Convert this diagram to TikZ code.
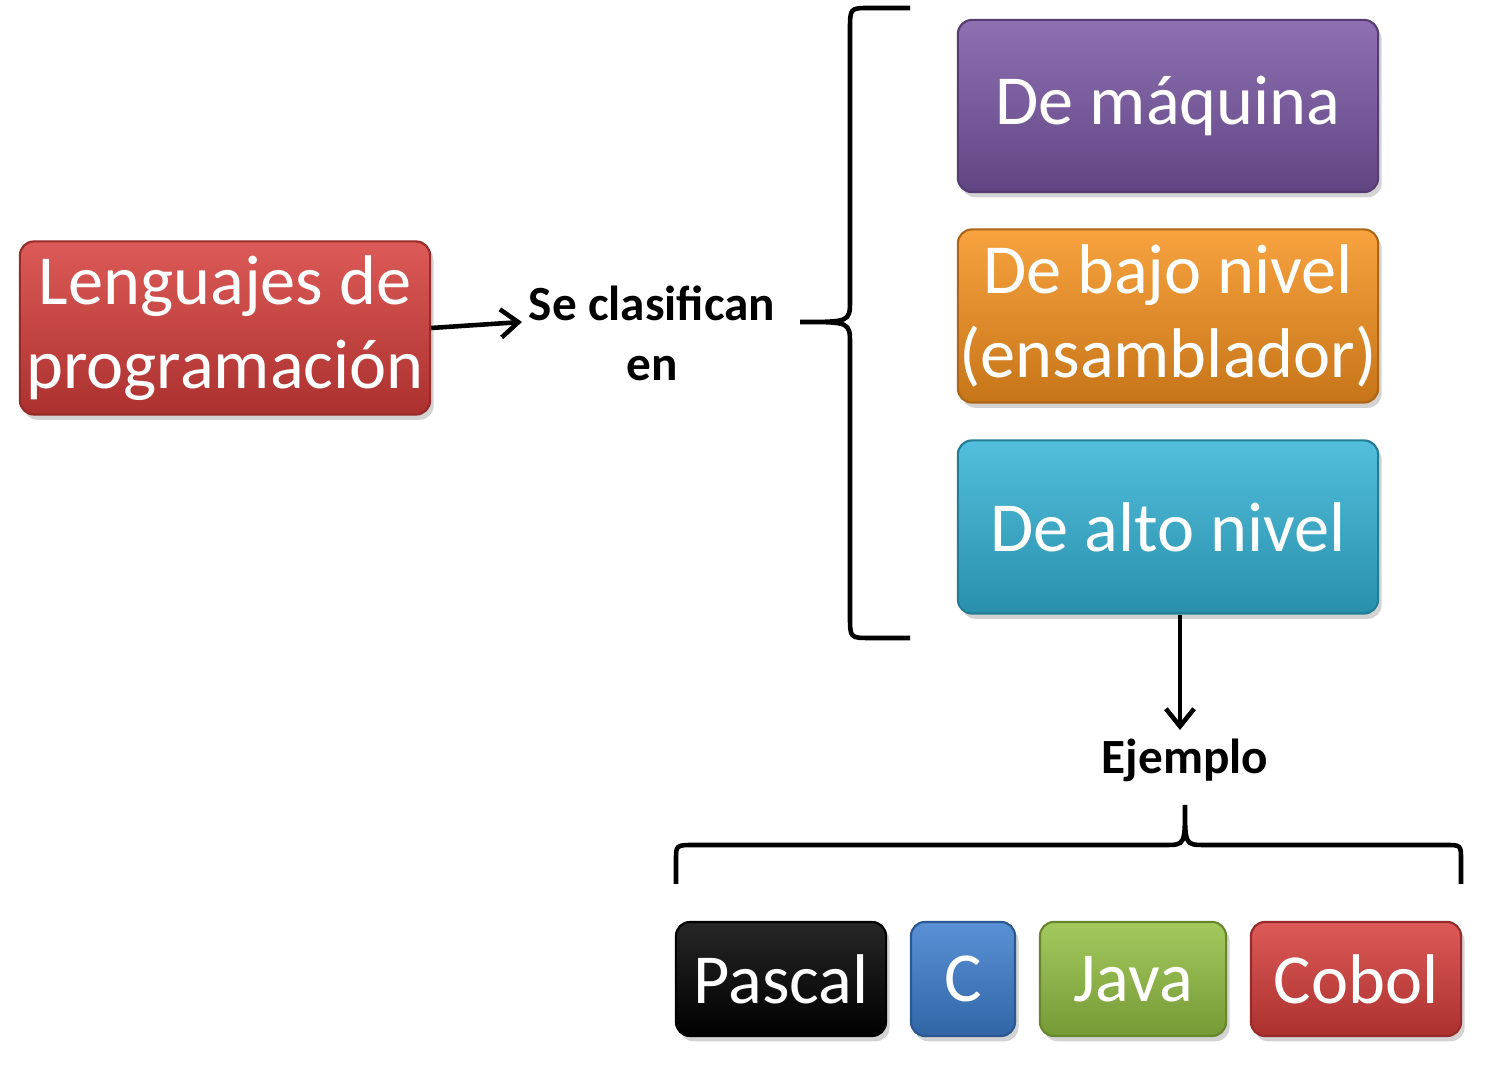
\documentclass[tikz,border=0pt]{standalone}
\usepackage{fontspec}
\setmainfont{Carlito}
\usetikzlibrary{shadows}
\definecolor{cred}{HTML}{D63D3A}
\definecolor{cpur}{HTML}{7A57A4}
\definecolor{corg}{HTML}{F7921E}
\definecolor{ccyan}{HTML}{33B3D6}
\definecolor{cblue}{HTML}{3D7ECF}
\definecolor{cgreen}{HTML}{93C042}
\tikzset{
 box/.style={rounded corners=14pt*0.2845, draw=#1!70!black, line width=0.6pt, text=white,
   top color=#1!85!white, bottom color=#1!80!black, drop shadow={opacity=0.35,shadow xshift=1pt,shadow yshift=-1.5pt},
   font=\fontsize{20}{24}\selectfont, align=center, inner sep=0pt},
 lbl/.style={font=\bfseries\fontsize{14}{17}\selectfont, align=center},
 arr/.style={line width=1.3pt,-{Straight Barb[length=5pt,width=8pt]}},
 brace/.style={line width=1.3pt}
}
\usetikzlibrary{arrows.meta}
\begin{document}
\begin{tikzpicture}[x=0.01cm,y=-0.01cm]
\useasboundingbox (0,0) rectangle (1490,1068);
\node[box=cred, minimum width=4.1cm, minimum height=1.73cm] (lp) at (225,328) {Lenguajes de\\programación};
\node[box=cpur, minimum width=4.2cm, minimum height=1.72cm] (maq) at (1168,106) {De máquina};
\node[box=corg, minimum width=4.2cm, minimum height=1.73cm] (bajo) at (1168,316) {De bajo nivel\\(ensamblador)};
\node[box=ccyan, minimum width=4.2cm, minimum height=1.73cm] (alto) at (1168,527) {De alto nivel};
\node[lbl] (se) at (652,333) {Se clasifican\\en};
\draw[arr] (lp.east) -- (522,322) coordinate (sa);
\coordinate (tip) at (792,322);
\draw[brace] (910,8) -- (870,8) .. controls (850,8) .. (850,30) -- (850,300) .. controls (850,322) .. (800,322)
 .. controls (850,322) .. (850,344) -- (850,616) .. controls (850,638) .. (870,638) -- (910,638);
\node[lbl] (ej) at (1185,760) {Ejemplo};
\coordinate (ae) at (1180,730);
\draw[arr] (alto.south -| ae) -- (ae);
\draw[brace] (676,884) -- (676,860) .. controls (676,845) .. (695,845) -- (1165,845) .. controls (1185,845) .. (1185,805)
 .. controls (1185,845) .. (1205,845) -- (1445,845) .. controls (1461,845) .. (1461,860) -- (1461,884);
\node[box=black, top color=black!85, bottom color=black, draw=black, minimum width=2.1cm, minimum height=1.14cm] (pas) at (781,979) {Pascal};
\node[box=cblue, minimum width=1.04cm, minimum height=1.14cm] (c) at (963,979) {C};
\node[box=cgreen, minimum width=1.86cm, minimum height=1.14cm] (java) at (1133,979) {Java};
\node[box=cred, minimum width=2.1cm, minimum height=1.14cm] (cob) at (1356,979) {Cobol};
\end{tikzpicture}
\end{document}
